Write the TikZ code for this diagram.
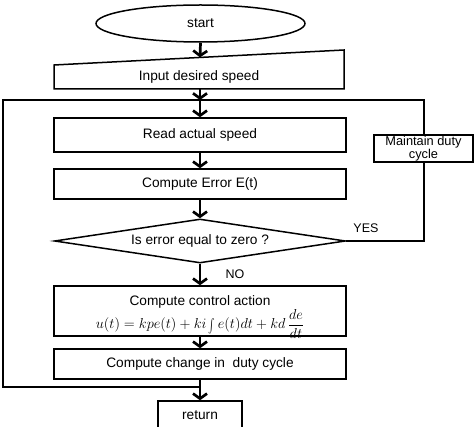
\documentclass[tikz,border=0pt]{standalone}
\usepackage{fontspec}
\setmainfont{Liberation Sans}
\usetikzlibrary{arrows.meta,shapes.geometric,calc}
\begin{document}
\begin{tikzpicture}[x=1pt,y=-1pt, font=\fontsize{13.7}{15}\selectfont,
  box/.style={draw, line width=1.5pt, minimum width=292pt, inner sep=0pt},
  flow/.style={line width=2.7pt, -{Straight Barb[length=5pt,width=14pt]}},
  loopline/.style={line width=2pt},
  lbl/.style={font=\fontsize{12.5}{14}\selectfont}]
\useasboundingbox (0,0) rectangle (474,427);
\node[ellipse, draw, line width=1.5pt, minimum width=209pt, minimum height=37pt, inner sep=0pt] (start) at (200.5,23.5) {start};
\node (inp) at (199,77) {Input desired speed};
\draw[line width=1.5pt] (54,89) -- (344,89) -- (344,50) -- (54,65) -- cycle;
\coordinate (inptop) at (200,57.4);
\coordinate (inpbot) at (200,89);
\coordinate (j) at (200,100);
\node[box, minimum height=34pt] (read) at (200,135) {Read actual speed};
\node[box, minimum height=30pt] (err) at (200,184) {Compute Error E(t)};
\node[diamond, aspect=6.6, draw, line width=1.5pt, minimum width=291pt, minimum height=44pt, inner sep=0pt] (dia) at (200,241) {Is error equal to zero ?};
\node[box, minimum height=50pt] (ctrl) at (200,311) {};
\node[inner sep=0pt] (ctrltop) at (200,302) {Compute control action};
\node[inner sep=0pt] (ctrleq) at (200,324) {$\displaystyle u(t)=kpe(t)+ki\,\smash{\raisebox{-2pt}{\scalebox{1}[1.4]{$\int$}}}\, e(t)dt+kd\,\frac{de}{dt}$};
\node[box, minimum height=30pt] (chg) at (200,364) {Compute change in\ \ duty cycle};
\node[draw, line width=1.5pt, minimum width=84pt, minimum height=34pt, inner sep=0pt] (ret) at (200,418) {\raisebox{5pt}{return}};
\node[box, minimum width=99pt, minimum height=27pt, align=center, font=\fontsize{12.8}{13}\selectfont] (maint) at (423.5,148.5) {Maintain duty\\cycle};
\coordinate (lb) at (200,387);
\coordinate (ll) at (3,100);
\draw[flow] (start.south) -- (inptop);
\draw[flow] (inpbot) -- (j);
\draw[flow] (j) -- (read.north);
\draw[flow] (read.south) -- (err.north);
\draw[flow] (err.south) -- (dia.north);
\draw[flow] (dia.south) -- (ctrl.north);
\node[lbl] (no) at (235,274) {NO};
\draw[flow] (ctrl.south) -- (chg.north);
\draw[flow] (chg.south) -- (ret.north);
\draw[loopline] (dia.east) -| (maint.south);
\node[lbl] (yes) at (366,228) {YES};
\draw[loopline] (maint.north) |- (j);
\draw[loopline] (lb) -| (ll) -- (j);
\end{tikzpicture}
\end{document}
